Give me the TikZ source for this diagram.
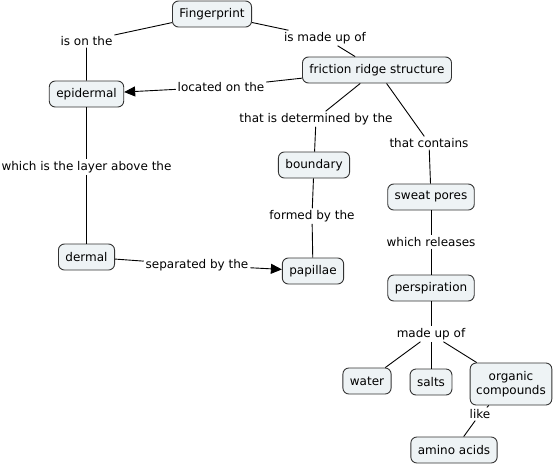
\documentclass[tikz,border=0pt]{standalone}
\usepackage{fontspec}
\setmainfont{DejaVu Sans}
\usetikzlibrary{arrows.meta}
\definecolor{boxfill}{HTML}{EEF3F5}
\definecolor{boxline}{HTML}{333333}

\begin{document}
\begin{tikzpicture}[x=1pt,y=-1pt,font=\fontsize{12}{14}\selectfont,line width=0.9pt,
	concept/.style={draw=boxline,fill=boxfill,rounded corners=6pt,minimum height=26pt,inner xsep=7pt,align=center},
	link/.style={inner sep=1.5pt,fill=white},
	arr/.style={-{Triangle[length=11pt,width=10pt]}}]
					\useasboundingbox (0,0) rectangle (557,466);
					
					%concepts
					\node[concept] (fingerprint) at (212,14) {Fingerprint};
					\node[concept] (epidermal) at (86.5,94) {epidermal};
					\node[concept] (friction) at (377,70) {friction ridge structure};
					\node[concept] (boundary) at (314,165) {boundary};
					\node[concept] (sweat) at (431,197) {sweat pores};
					\node[concept] (dermal) at (86.5,257) {dermal};
					\node[concept] (papillae) at (313,271) {papillae};
					\node[concept] (perspiration) at (431,288) {perspiration};
					\node[concept] (water) at (367,381) {water};
					\node[concept] (salts) at (431,382) {salts};
					\node[concept,minimum height=42pt,inner xsep=6pt] (organic) at (511,384) {organic\\compounds};
					\node[concept] (amino) at (454,450) {amino acids};
					
					%linking phrases
					\node[link] (isonthe) at (86.5,41) {is on the};
					\node[link] (madeup) at (325,38) {is made up of};
					\node[link] (located) at (221,87) {located on the};
					\node[link] (determined) at (316,119) {that is determined by the};
					\node[link] (contains) at (429,143) {that contains};
					\node[link] (layer) at (86.5,167) {which is the layer above the};
					\node[link] (formed) at (312,216) {formed by the};
					\node[link] (separated) at (197,265) {separated by the};
					\node[link] (releases) at (431,242) {which releases};
					\node[link] (madeupof) at (431,334) {made up of};
					\node[link] (like) at (480,414) {like};
					
					%connectors
					\draw (fingerprint) -- (isonthe) -- (epidermal);
					\draw (fingerprint) -- (madeup) -- (friction);
					\draw (friction) -- (located);
					\draw[arr] (located) -- (epidermal);
					\draw (friction) -- (determined) -- (boundary);
					\draw (friction) -- (contains) -- (sweat);
					\draw (epidermal) -- (layer) -- (dermal);
					\draw (boundary) -- (formed) -- (papillae);
					\draw (dermal) -- (separated);
					\draw[arr] (separated) -- (papillae);
					\draw (sweat) -- (releases) -- (perspiration);
					\draw (perspiration) -- (madeupof);
					\draw (madeupof) -- (water);
					\draw (madeupof) -- (salts);
					\draw (madeupof) -- (organic);
					\draw (organic) -- (like) -- (amino);
				\end{tikzpicture}
\end{document}
